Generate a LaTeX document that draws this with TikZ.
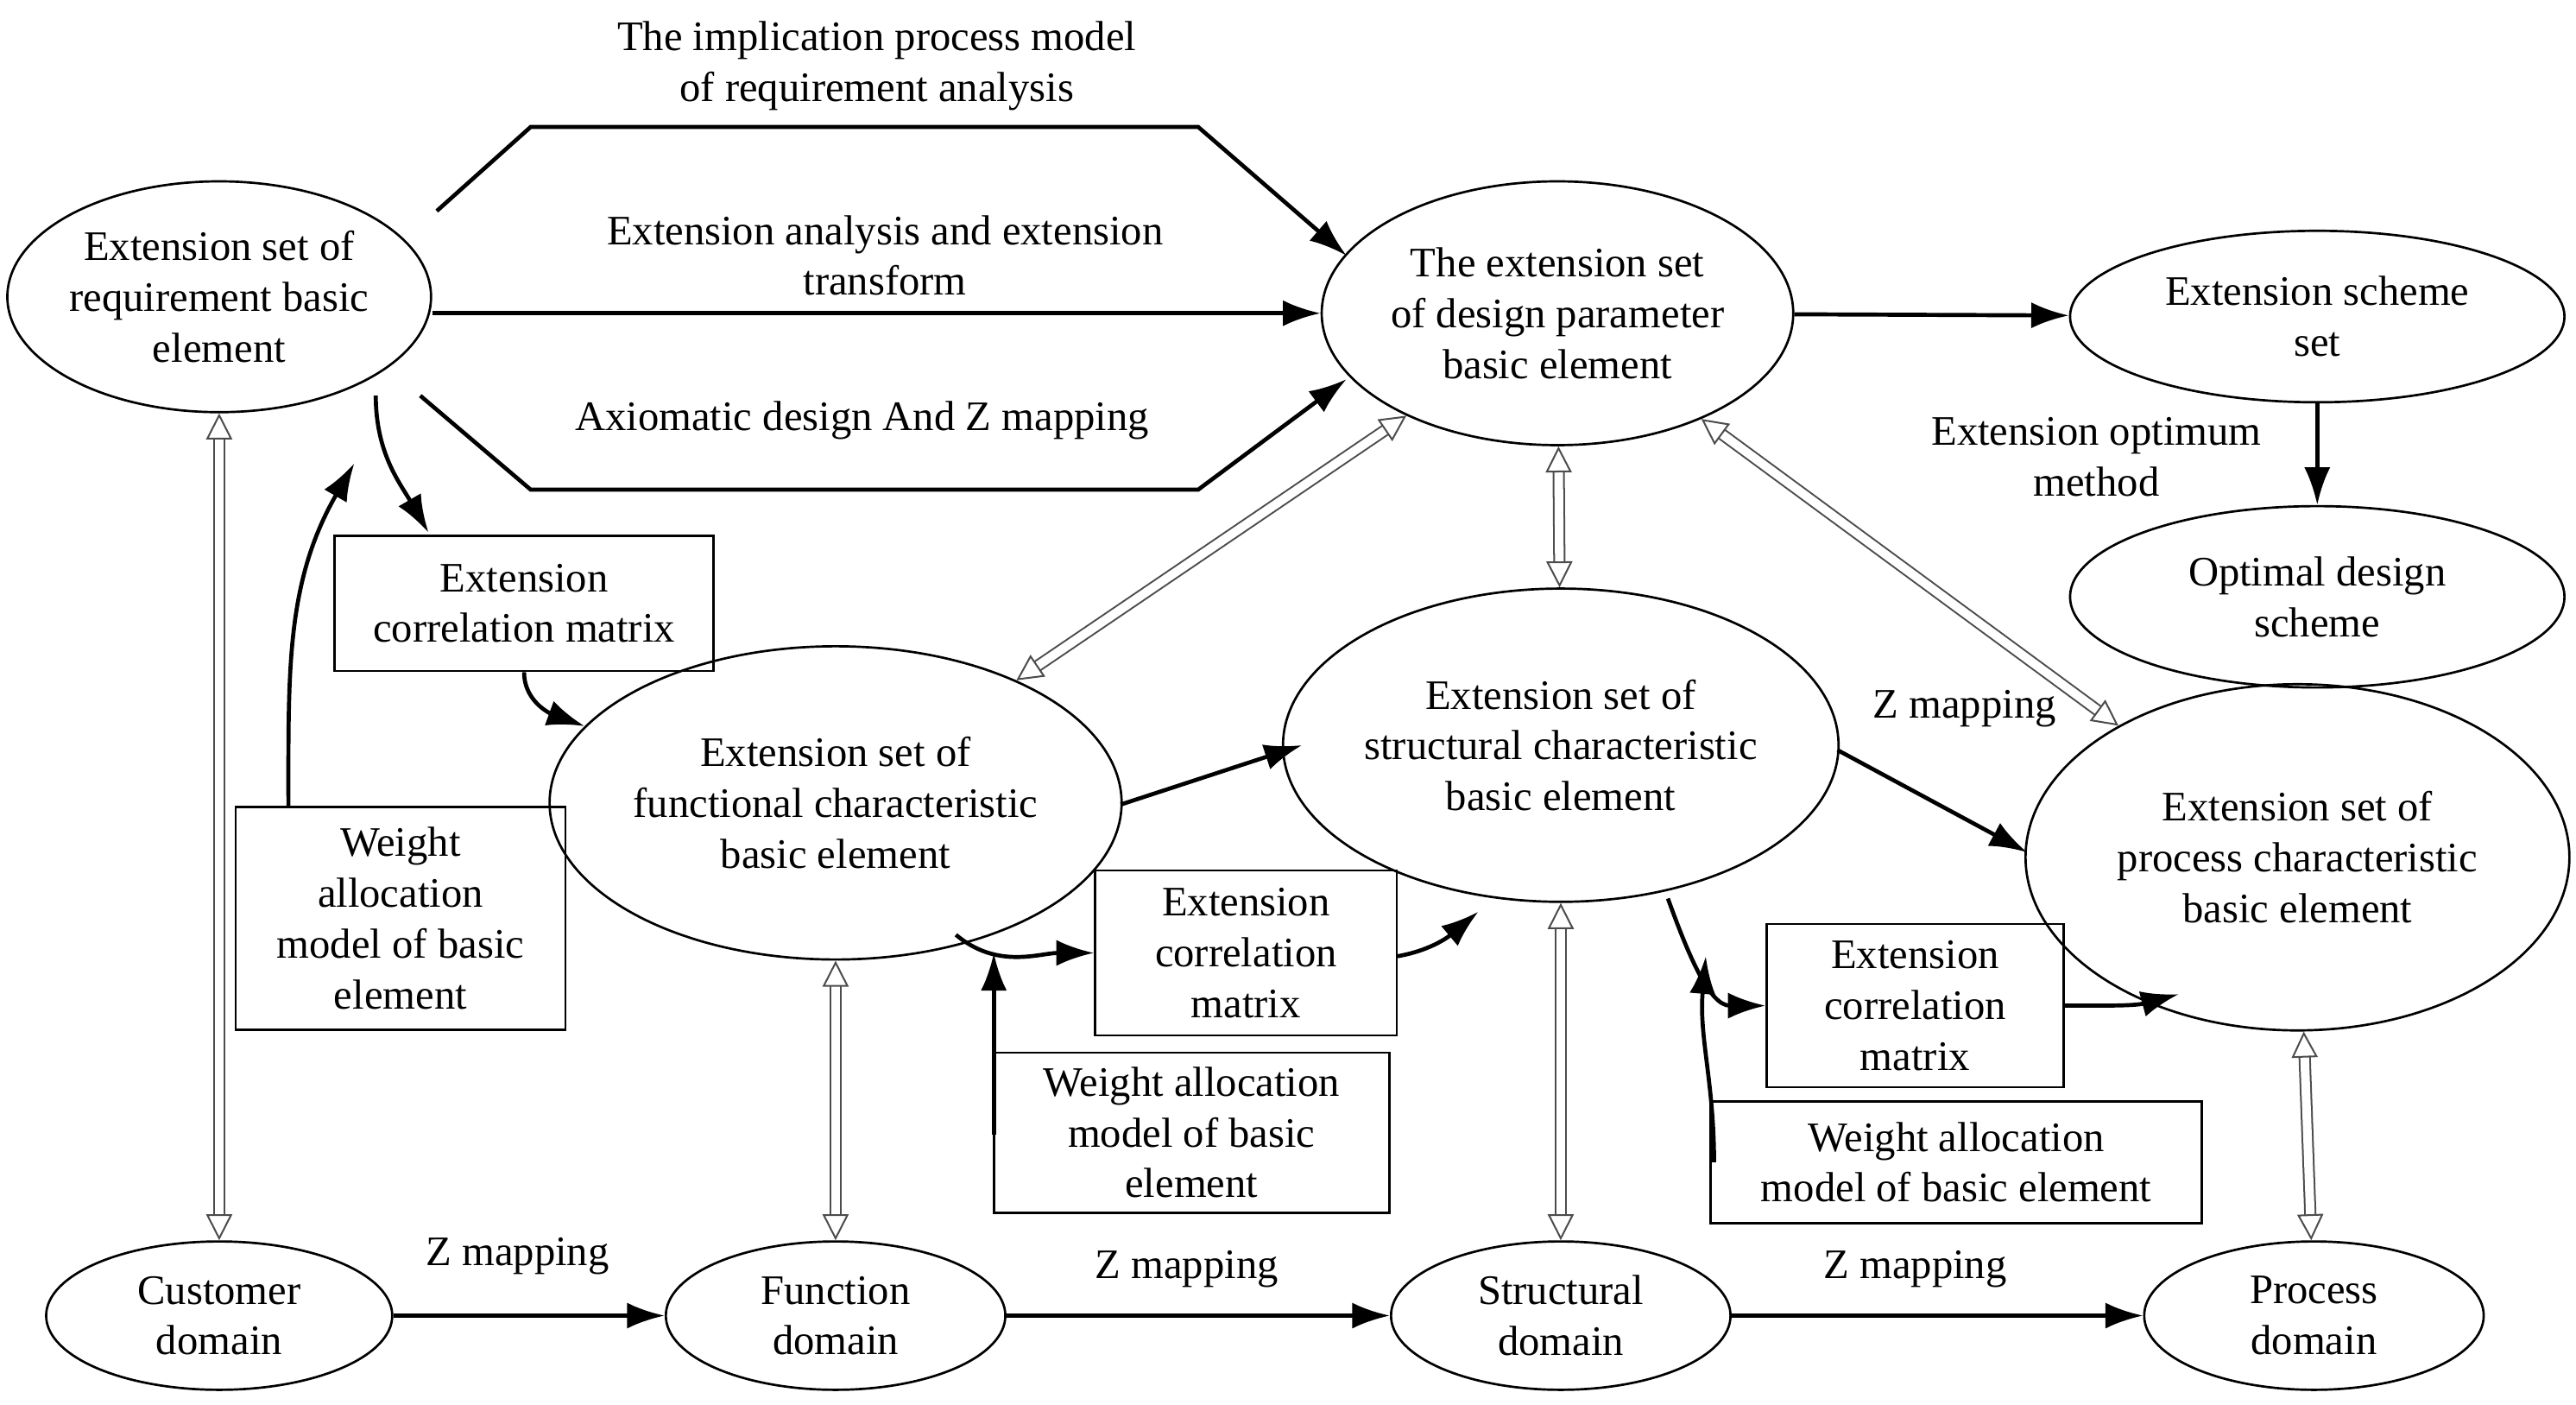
\documentclass[tikz,border=0pt]{standalone}
\usepackage{fontspec}
\setmainfont{Liberation Serif}
\usetikzlibrary{shapes.geometric,arrows.meta}
\begin{document}
\begin{tikzpicture}[x=0.02cm,y=-0.02cm,
  every node/.style={font=\fontsize{14.5}{17.5}\selectfont,align=center},
  ell/.style={draw,ellipse,inner sep=0pt,line width=0.8pt},
  box/.style={draw,rectangle,inner sep=2pt,line width=0.8pt},
  arr/.style={-{Latex[length=13pt,width=9pt]},line width=1.4pt},
  dbl/.style={draw=black!70,double=white,double distance=3pt,line width=0.6pt,
    {Triangle[open,length=9pt,width=9pt]}-{Triangle[open,length=9pt,width=9pt]}},
  lab/.style={inner sep=0pt}]
\useasboundingbox (0,0) rectangle (1563,852);
% ellipses
\node[ell,minimum width=256*0.02cm,minimum height=140*0.02cm] (req) at (133,180) {Extension set of\\requirement basic\\element};
\node[ell,minimum width=276*0.02cm,minimum height=160*0.02cm] (design) at (945,190) {The extension set\\of design parameter\\basic element};
\node[ell,minimum width=300*0.02cm,minimum height=104*0.02cm] (scheme) at (1406,192) {Extension scheme\\set};
\node[ell,minimum width=300*0.02cm,minimum height=110*0.02cm] (optimal) at (1406,362) {Optimal design\\scheme};
\node[ell,minimum width=340*0.02cm,minimum height=190*0.02cm] (func) at (507,487) {Extension set of\\functional characteristic\\basic element};
\node[ell,minimum width=324*0.02cm,minimum height=190*0.02cm] (struct) at (947,452) {Extension set of\\structural characteristic\\basic element};
\node[ell,minimum width=330*0.02cm,minimum height=210*0.02cm] (proc) at (1394,520) {Extension set of\\process characteristic\\basic element};
\node[ell,minimum width=210*0.02cm,minimum height=90*0.02cm] (cdom) at (133,798) {Customer\\domain};
\node[ell,minimum width=206*0.02cm,minimum height=90*0.02cm] (fdom) at (507,798) {Function\\domain};
\node[ell,minimum width=206*0.02cm,minimum height=90*0.02cm] (sdom) at (947,798) {Structural\\domain};
\node[ell,minimum width=206*0.02cm,minimum height=90*0.02cm] (pdom) at (1404,798) {Process\\domain};
% boxes
\node[box,minimum width=230*0.02cm,minimum height=82*0.02cm] (ecm1) at (318,366) {Extension\\correlation matrix};
\node[box,minimum width=200*0.02cm,minimum height=135*0.02cm] (w1) at (243,557) {Weight\\allocation\\model of basic\\element};
\node[box,minimum width=183*0.02cm,minimum height=100*0.02cm] (ecm2) at (756,578) {Extension\\correlation\\matrix};
\node[box,minimum width=240*0.02cm,minimum height=97*0.02cm] (w2) at (723,687) {Weight allocation\\model of basic\\element};
\node[box,minimum width=180*0.02cm,minimum height=99*0.02cm] (ecm3) at (1162,610) {Extension\\correlation\\matrix};
\node[box,minimum width=298*0.02cm,minimum height=74*0.02cm] (w3) at (1187,705) {Weight allocation\\model of basic element};
% labels
\node[lab] (l1) at (532,40) {The implication process model\\of requirement analysis};
\node[lab] (l2) at (537,155) {Extension analysis and extension\\transform};
\node[lab] (l3) at (523,255) {Axiomatic design And Z mapping};
\node[lab] (l4) at (1272,277) {Extension optimum\\method};
\node[lab] (l5) at (1192,430) {Z mapping};
\node[lab] (l6) at (314,762) {Z mapping};
\node[lab] (l7) at (720,770) {Z mapping};
\node[lab] (l8) at (1162,770) {Z mapping};
% coordinates
\coordinate (s1) at (265,128); \coordinate (s2) at (255,240);
\coordinate (t1) at (322,77); \coordinate (t2) at (727,77);
\coordinate (b1) at (322,297); \coordinate (b2) at (727,297);
\coordinate (e1) at (817,155); \coordinate (e2) at (817,230);
\coordinate (fs1) at (680,488); \coordinate (fs2) at (790,452);
\coordinate (sp1) at (1115,455); \coordinate (sp2) at (1230,517);
\coordinate (c1) at (228,240); \coordinate (c2) at (260,323);
\coordinate (c3) at (175,490); \coordinate (c4) at (215,281);
\coordinate (c5) at (580,567); \coordinate (c6) at (848,580); \coordinate (c7) at (897,553);
\coordinate (c8) at (603,688); \coordinate (c9) at (603,578);
\coordinate (c10) at (1012,545); \coordinate (c11) at (1252,610); \coordinate (c12) at (1322,603);
\coordinate (c13) at (1040,705); \coordinate (c14) at (1035,580);
% main arrows
\draw[arr] (s1) -- (t1) -- (t2) -- (e1);
\draw[arr] (s2) -- (b1) -- (b2) -- (e2);
\draw[arr] (req.east |- 0,190) -- (design.west |- 0,190);
\draw[arr] (design) -- (scheme);
\draw[arr] (scheme) -- (optimal);
\draw[arr] (fs1) -- (fs2);
\draw[arr] (sp1) -- (sp2);
\draw[arr] (cdom) -- (fdom);
\draw[arr] (fdom) -- (sdom);
\draw[arr] (sdom) -- (pdom);
% curved
\draw[arr] (c1) to[out=-90,in=120] (c2);
\draw[arr] (ecm1.south) to[out=-90,in=160] (func.163);
\draw[arr] (c3) to[out=90,in=-120] (c4);
\draw[arr] (c5) to[out=-40,in=180] (ecm2.west);
\draw[arr] (c6) to[out=10,in=220] (c7);
\draw[arr] (c8) to[out=90,in=-90] (c9);
\draw[arr] (c10) to[out=-70,in=180] (ecm3.west);
\draw[arr] (c11) to[out=0,in=195] (c12);
\draw[arr] (c13) to[out=90,in=-95] (c14);
% double arrows
\draw[dbl] (req) -- (cdom);
\draw[dbl] (func) -- (fdom);
\draw[dbl] (struct) -- (sdom);
\draw[dbl] (proc) -- (pdom);
\draw[dbl] (design) -- (struct);
\draw[dbl] (design) -- (func);
\draw[dbl] (design) -- (proc);
\end{tikzpicture}
\end{document}
